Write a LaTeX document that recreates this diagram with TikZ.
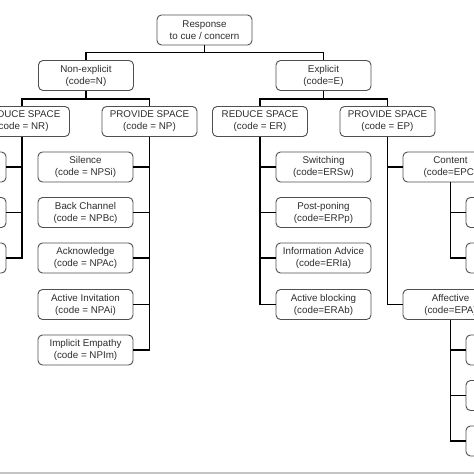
\documentclass[tikz,border=0pt]{standalone}
\usepackage{fontspec}
\setmainfont{Liberation Sans}
\definecolor{txt}{HTML}{2E2E2E}
\definecolor{bord}{HTML}{505050}
\definecolor{bar}{HTML}{C4C4C4}
\begin{document}
\begin{tikzpicture}[x=1pt,y=-1pt,
  box/.style={draw=bord, line width=0.9pt, rounded corners=4.5pt, fill=white,
    minimum width=95pt, minimum height=30pt, inner sep=0pt, align=center,
    text=txt, font=\fontsize{9.8}{12}\selectfont},
  conn/.style={line width=1.8pt, black}]
\useasboundingbox (0,0) rectangle (474,474);
\clip (0,0) rectangle (474,474);
\fill[white] (0,0) rectangle (474,474);
% top levels
\node[box] (resp) at (204.5,30) {Response\\to cue / concern};
\node[box] (nonexp) at (86,75.5) {Non-explicit\\(code=N)};
\node[box] (exp) at (323.5,75.5) {Explicit\\(code=E)};
\node[box] (nr) at (22,121.5) {REDUCE SPACE\\(code = NR)};
\node[box] (np) at (149.5,121.5) {PROVIDE SPACE\\(code = NP)};
\node[box] (er) at (260,121.5) {REDUCE SPACE\\(code = ER)};
\node[box] (ep) at (387.5,121.5) {PROVIDE SPACE\\(code = EP)};
% NR children (cut off)
\node[box] (nra) at (-41.5,167) {};
\node[box] (nrb) at (-41.5,212.5) {};
\node[box] (nrc) at (-41.5,258) {};
% NP children
\node[box] (npsi) at (85.5,167) {Silence\\(code = NPSi)};
\node[box] (npbc) at (85.5,212.5) {Back Channel\\(code = NPBc)};
\node[box] (npac) at (85.5,258) {Acknowledge\\(code = NPAc)};
\node[box] (npai) at (85.5,304.5) {Active Invitation\\(code = NPAi)};
\node[box] (npim) at (85.5,350) {Implicit Empathy\\(code = NPIm)};
% ER children
\node[box] (ersw) at (323.5,167) {Switching\\(code=ERSw)};
\node[box] (erpp) at (323.5,212.5) {Post-poning\\(code=ERPp)};
\node[box] (eria) at (323.5,258) {Information Advice\\(code=ERIa)};
\node[box] (erab) at (323.5,304.5) {Active blocking\\(code=ERAb)};
% EP children
\node[box] (epc) at (450.5,167) {Content\\(code=EPC)};
\node[box] (epa) at (450.5,304.5) {Affective\\(code=EPA)};
% Content children
\node[box] (epca) at (513.5,212.5) {};
\node[box] (epcb) at (513.5,258) {};
% Affective children
\node[box] (epaa) at (513.5,350) {};
\node[box] (epab) at (513.5,395.5) {};
\node[box] (epac) at (513.5,441) {};
% connectors
\draw[conn] (resp.south) -- ++(0,7) -| (nonexp.north);
\draw[conn] (resp.south) -- ++(0,7) -| (exp.north);
\draw[conn] (nonexp.south) -- ++(0,8) -| (nr.north);
\draw[conn] (nonexp.south) -- ++(0,8) -| (np.north);
\draw[conn] (exp.south) -- ++(0,8) -| (er.north);
\draw[conn] (exp.south) -- ++(0,8) -| (ep.north);
\foreach \c in {nra,nrb,nrc} \draw[conn] (nr.south) |- (\c.east);
\foreach \c in {npsi,npbc,npac,npai,npim} \draw[conn] (np.south) |- (\c.east);
\foreach \c in {ersw,erpp,eria,erab} \draw[conn] (er.south) |- (\c.west);
\foreach \c in {epc,epa} \draw[conn] (ep.south) |- (\c.west);
\foreach \c in {epca,epcb} \draw[conn] (epc.south) |- (\c.west);
\foreach \c in {epaa,epab,epac} \draw[conn] (epa.south) |- (\c.west);
% bottom bar
\fill[bar] (0,471.5) rectangle (474,474);
\end{tikzpicture}
\end{document}
